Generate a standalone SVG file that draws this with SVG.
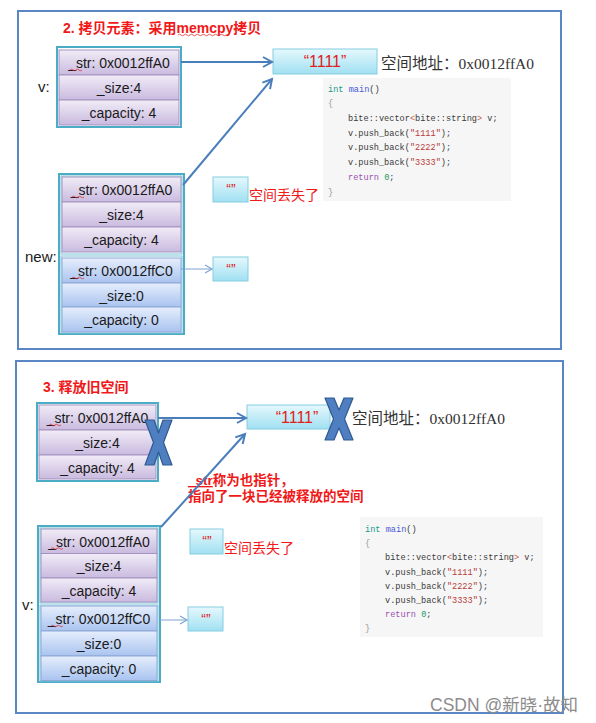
<svg xmlns="http://www.w3.org/2000/svg" width="596" height="723" viewBox="0 0 596 723">
<defs>
<linearGradient id="gp" x1="0" y1="0" x2="0" y2="1"><stop offset="0" stop-color="#f1ecf7"/><stop offset="1" stop-color="#c9badf"/></linearGradient>
<linearGradient id="gb" x1="0" y1="0" x2="0" y2="1"><stop offset="0" stop-color="#e6eefc"/><stop offset="1" stop-color="#a9c3f0"/></linearGradient>
<linearGradient id="gc" x1="0" y1="0" x2="0" y2="1"><stop offset="0" stop-color="#e6f8fd"/><stop offset="1" stop-color="#a0e0f2"/></linearGradient>
<marker id="ah" markerUnits="userSpaceOnUse" markerWidth="14" markerHeight="14" refX="10" refY="6" orient="auto"><path d="M1,1 L10,6 L1,11" fill="none" stroke="#4a7ebb" stroke-width="2"/></marker>
<marker id="ahs" markerUnits="userSpaceOnUse" markerWidth="12" markerHeight="12" refX="8" refY="5" orient="auto"><path d="M1,1 L8,5 L1,9" fill="none" stroke="#7fa3d4" stroke-width="1.2"/></marker>
<path id="sq" d="M0,0 q1.5,-1.5 3,0 t3,0 t3,0 t3,0" fill="none" stroke="#e03030" stroke-width="0.8"/>
</defs>
<style>
.frame{fill:#fff;stroke:#5a86c4;stroke-width:2}
.outer{fill:#fff;stroke:#4bacc6;stroke-width:2}
.grp{fill:none;stroke:#7cc4d6;stroke-width:1}
.rp{fill:url(#gp);stroke:#a393c0;stroke-width:1}
.rb{fill:url(#gb);stroke:#8ea8d6;stroke-width:1}
.cy{fill:url(#gc);stroke:#86cde0;stroke-width:1}
.rt{font-family:"Liberation Sans",Arial,sans-serif;font-size:14px;fill:#1a1a1a;text-anchor:middle}
.lbl{font-family:"Liberation Sans",Arial,sans-serif;font-size:15px;fill:#1a1a1a}
.title{font-family:"Liberation Sans","Noto Sans CJK SC",sans-serif;font-size:14px;font-weight:bold;fill:#f01818}
.red{font-family:"Noto Sans CJK SC",sans-serif;font-size:14px;fill:#f01818}
.note{font-family:"Liberation Sans","Noto Sans CJK SC",sans-serif;font-size:13.5px;font-weight:bold;fill:#f01818}
.s1{font-family:"Liberation Sans",Arial,sans-serif;font-size:16px;fill:#e02020;text-anchor:middle}
.q{font-family:"Liberation Sans",sans-serif;font-size:14px;fill:#e02020;text-anchor:middle}
.addr{font-family:"Liberation Serif","Noto Sans CJK SC",serif;font-size:15.5px;fill:#333}
.codebg{fill:#f6f6f6}
.code{font-family:"Liberation Mono","DejaVu Sans Mono",monospace;font-size:8.6px;fill:#3a3a3a}
.kw{fill:#1a9a8c}.fn{fill:#4a5ad8}.st{fill:#b8403a}.rk{fill:#9a50b0}.nm{fill:#1a9a60}.br{fill:#999}.ang{fill:#c65d4e}
.conn{stroke:#4a7ebb;stroke-width:2;fill:none;marker-end:url(#ah)}
.thin{stroke:#7fa3d4;stroke-width:1;fill:none;marker-end:url(#ahs)}
.xm{fill:#4f7fc0;stroke:#2f5a92;stroke-width:1.2;stroke-linejoin:round}
.wm{font-family:"Liberation Sans","Noto Sans CJK SC",sans-serif;font-size:17.5px;fill:#8c8c8c}
</style>

<!-- Panel 1 -->
<g id="panel1">
<rect class="frame" x="18" y="11" width="543" height="338"/>
<text class="title" x="63" y="33">2. 拷贝元素：采用memcpy拷贝</text>
<use href="#sq" x="178" y="35"/><use href="#sq" x="190" y="35"/><use href="#sq" x="202" y="35"/><use href="#sq" x="214" y="35"/>
</g>

<g id="p1-v">
<text class="lbl" x="38" y="92">v:</text>
<rect class="outer" x="57" y="47" width="124" height="80"/>
<rect class="rp" x="59" y="50" width="120" height="25"/>
<rect class="rp" x="59" y="75" width="120" height="25"/>
<rect class="rp" x="59" y="100" width="120" height="25"/>
<text class="rt" x="119" y="68">_str: 0x0012ffA0</text>
<use href="#sq" x="70" y="70"/>
<text class="rt" x="119" y="93">_size:4</text>
<text class="rt" x="119" y="118">_capacity: 4</text>
</g>

<g id="p1-new">
<text class="lbl" x="25" y="262">new:</text>
<rect class="outer" x="59" y="174" width="125" height="160"/>
<rect class="grp" x="61" y="176" width="121" height="78"/>
<rect class="grp" x="61" y="256" width="121" height="77"/>
<rect class="rp" x="62" y="177" width="119" height="25"/>
<rect class="rp" x="62" y="202" width="119" height="25"/>
<rect class="rp" x="62" y="227" width="119" height="25"/>
<rect class="rb" x="62" y="258" width="119" height="25"/>
<rect class="rb" x="62" y="283" width="119" height="24"/>
<rect class="rb" x="62" y="307" width="119" height="25"/>
<text class="rt" x="121.5" y="195">_str: 0x0012ffA0</text>
<use href="#sq" x="72" y="197"/>
<text class="rt" x="121.5" y="220">_size:4</text>
<text class="rt" x="121.5" y="245">_capacity: 4</text>
<text class="rt" x="121.5" y="276">_str: 0x0012ffC0</text>
<use href="#sq" x="72" y="278"/>
<text class="rt" x="121.5" y="301">_size:0</text>
<text class="rt" x="121.5" y="325">_capacity: 0</text>
</g>

<g id="p1-1111">
<rect class="cy" x="273" y="49" width="104" height="25"/>
<text class="s1" x="325" y="67">“1111”</text>
<text class="addr" x="381" y="69">空间地址：0x0012ffA0</text>
</g>

<g id="p1-empty1">
<rect class="cy" x="213" y="177" width="35" height="25"/>
<text class="q" x="231" y="194">“”</text>
<text class="red" x="249" y="200">空间丢失了</text>
</g>

<g id="p1-empty2">
<rect class="cy" x="213" y="257" width="35" height="24"/>
<text class="q" x="231" y="274">“”</text>
</g>

<g id="p1-code">
<rect class="codebg" x="323" y="78" width="188" height="123"/>
<text class="code" x="328" y="92"><tspan class="kw">int</tspan> <tspan class="fn">main</tspan>()</text>
<text class="code br" x="328" y="106">{</text>
<text class="code" x="348" y="121">bite::vector<tspan class="ang">&lt;</tspan>bite::string<tspan class="ang">&gt;</tspan> v;</text>
<text class="code" x="348" y="136">v.push_back(<tspan class="st">"1111"</tspan>);</text>
<text class="code" x="348" y="150">v.push_back(<tspan class="st">"2222"</tspan>);</text>
<text class="code" x="348" y="165">v.push_back(<tspan class="st">"3333"</tspan>);</text>
<text class="code" x="348" y="180"><tspan class="rk">return</tspan> <tspan class="nm">0</tspan>;</text>
<text class="code br" x="328" y="195">}</text>
</g>

<!-- Panel 2 -->
<g id="panel2">
<rect class="frame" x="16" y="361" width="547" height="352"/>
<text class="title" x="43" y="392">3. 释放旧空间</text>
</g>

<g id="p2-old">
<rect class="outer" x="37" y="403" width="121" height="78"/>
<rect class="rp" x="39" y="405" width="117" height="25"/>
<rect class="rp" x="39" y="430" width="117" height="25"/>
<rect class="rp" x="39" y="455" width="117" height="24"/>
<text class="rt" x="97.5" y="423">_str: 0x0012ffA0</text>
<use href="#sq" x="49" y="425"/>
<text class="rt" x="97.5" y="448">_size:4</text>
<text class="rt" x="97.5" y="473">_capacity: 4</text>
</g>

<g id="p2-1111">
<rect class="cy" x="247" y="405" width="83" height="24"/>
<text class="s1" x="297" y="423">“1111”</text>
<text class="addr" x="352" y="424">空间地址：0x0012ffA0</text>
</g>

<g id="p2-v">
<text class="lbl" x="22" y="610">v:</text>
<rect class="outer" x="38" y="526" width="122" height="156"/>
<rect class="grp" x="40" y="528" width="118" height="75"/>
<rect class="grp" x="40" y="605" width="118" height="76"/>
<rect class="rp" x="41" y="529" width="116" height="24.5"/>
<rect class="rp" x="41" y="553.5" width="116" height="24.5"/>
<rect class="rp" x="41" y="578" width="116" height="24"/>
<rect class="rb" x="41" y="606" width="116" height="25"/>
<rect class="rb" x="41" y="631" width="116" height="25"/>
<rect class="rb" x="41" y="656" width="116" height="24.5"/>
<text class="rt" x="99" y="546.5">_str: 0x0012ffA0</text>
<use href="#sq" x="51" y="548.5"/>
<text class="rt" x="99" y="571">_size:4</text>
<text class="rt" x="99" y="595.5">_capacity: 4</text>
<text class="rt" x="99" y="624">_str: 0x0012ffC0</text>
<use href="#sq" x="51" y="626"/>
<text class="rt" x="99" y="649">_size:0</text>
<text class="rt" x="99" y="673.5">_capacity: 0</text>
</g>

<g id="p2-empty1">
<rect class="cy" x="190" y="529" width="33" height="25"/>
<text class="q" x="207" y="546">“”</text>
<text class="red" x="224" y="553">空间丢失了</text>
</g>

<g id="p2-empty2">
<rect class="cy" x="188" y="607" width="35" height="24"/>
<text class="q" x="206" y="624">“”</text>
</g>

<g id="p2-note">
<text class="note" x="188" y="485"><tspan text-decoration="underline">_str</tspan>称为也指针，</text>
<text class="note" x="188" y="501">指向了一块已经被释放的空间</text>
</g>

<g id="p2-code">
<rect class="codebg" x="360" y="517" width="183" height="120"/>
<text class="code" x="365" y="532"><tspan class="kw">int</tspan> <tspan class="fn">main</tspan>()</text>
<text class="code br" x="365" y="546">{</text>
<text class="code" x="385" y="560">bite::vector<tspan class="ang">&lt;</tspan>bite::string<tspan class="ang">&gt;</tspan> v;</text>
<text class="code" x="385" y="575">v.push_back(<tspan class="st">"1111"</tspan>);</text>
<text class="code" x="385" y="589">v.push_back(<tspan class="st">"2222"</tspan>);</text>
<text class="code" x="385" y="603">v.push_back(<tspan class="st">"3333"</tspan>);</text>
<text class="code" x="385" y="617"><tspan class="rk">return</tspan> <tspan class="nm">0</tspan>;</text>
<text class="code br" x="365" y="631">}</text>
</g>

<g id="connectors">
<line class="conn" x1="181" y1="62" x2="272" y2="62"/>
<line class="conn" x1="183" y1="185" x2="272" y2="79"/>
<line class="thin" x1="181" y1="269" x2="212" y2="269"/>
<line class="conn" x1="158" y1="418" x2="246" y2="418"/>
<line class="conn" x1="161" y1="527" x2="245" y2="434"/>
<line class="thin" x1="160" y1="620" x2="187" y2="620"/>
</g>

<g id="xmarks">
<polygon class="xm" points="145,420 154,420 158.5,433 163,420 172,420 163.5,442.5 172,465 163,465 158.5,452 154,465 145,465 153.5,442.5"/>
<polygon class="xm" points="325,398 334,398 339,410 344,398 353,398 344.5,419 353,440 344,440 339,428 334,440 325,440 333.5,419"/>
</g>

<text class="wm" x="430" y="711">CSDN @新晓·故知</text>
</svg>
